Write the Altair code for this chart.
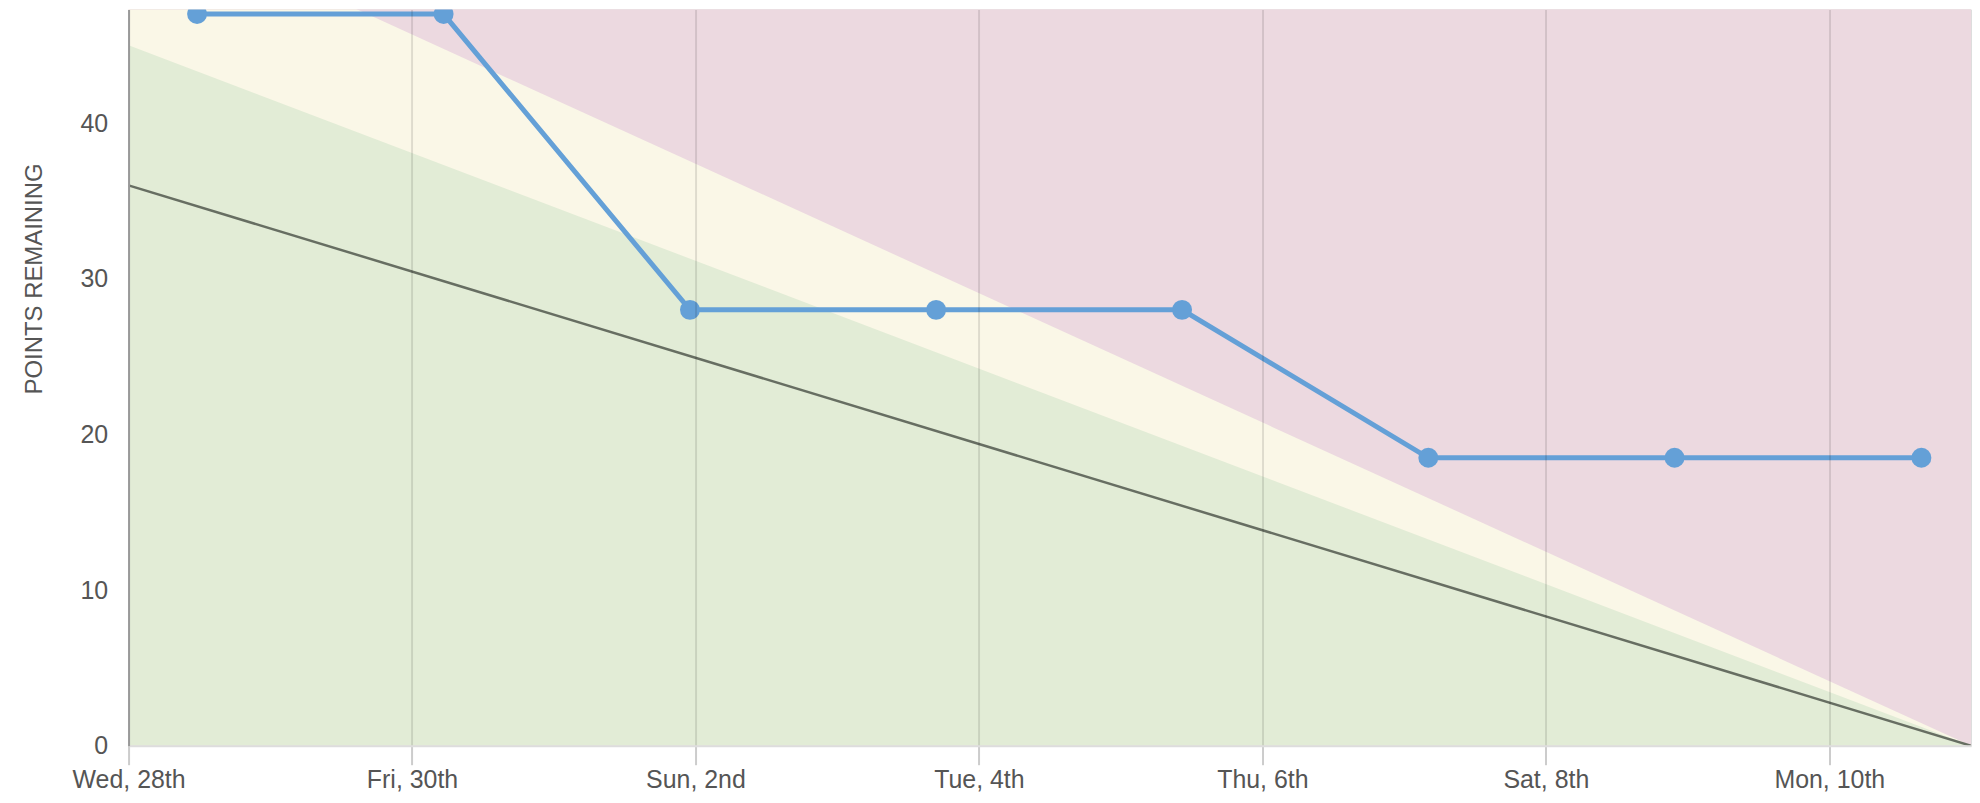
import altair as alt
import pandas as pd

# Sprint burndown: actual remaining points
burn_times = [
    "2017-06-28T11:36:00",
    "2017-06-30T05:21:00",
    "2017-07-01T23:04:00",
    "2017-07-03T16:45:00",
    "2017-07-05T10:24:00",
    "2017-07-07T04:06:00",
    "2017-07-08T21:48:00",
    "2017-07-10T15:36:00",
]
burn_points = [47, 47, 28, 28, 28, 18.5, 18.5, 18.5]

# Guide lines: start and end of the sprint
guide_times = ["2017-06-28T00:00:00", "2017-07-11T00:00:00"]
ideal_points = [36, 0]
green_points = [45, 0]
yellow_points = [54, 0]

tick_dates = [(6, 28), (6, 30), (7, 2), (7, 4), (7, 6), (7, 8), (7, 10)]

W, H = 1849, 739

burn = pd.DataFrame({"t": burn_times, "points": burn_points})
guides = pd.DataFrame(
    {"t": guide_times, "ideal": ideal_points, "green": green_points, "yellow": yellow_points}
)

label_expr = (
    "timeFormat(datum.value, '%a, ') + date(datum.value) + "
    "((date(datum.value) == 1 || date(datum.value) == 21 || date(datum.value) == 31) ? 'st' : "
    "(date(datum.value) == 2 || date(datum.value) == 22) ? 'nd' : "
    "(date(datum.value) == 3 || date(datum.value) == 23) ? 'rd' : 'th')"
)

x_scale = alt.Scale(
    domain=[
        alt.DateTime(year=2017, month=6, date=28),
        alt.DateTime(year=2017, month=7, date=11),
    ]
)
y_scale = alt.Scale(domain=[0, 47.3], nice=False, zero=True)

x_axis = alt.Axis(
    values=[alt.DateTime(year=2017, month=m, date=d) for m, d in tick_dates],
    labelExpr=label_expr,
    title=None,
    grid=True,
    gridColor="#000000",
    gridOpacity=0.11,
    gridWidth=2,
    domainColor="#dddddd",
    domainWidth=2,
    tickColor="#cccccc",
    tickWidth=2,
    tickSize=19,
    labelPadding=3,
    labelFlush=False,
    labelFontSize=25,
    labelColor="#555555",
    labelFont="Liberation Sans",
    zindex=1,
)
y_axis = alt.Axis(
    values=[0, 10, 20, 30, 40],
    title="POINTS REMAINING",
    grid=False,
    ticks=False,
    tickSize=0,
    domainColor="#999999",
    domainWidth=2,
    labelPadding=21,
    labelFontSize=25,
    labelColor="#555555",
    labelFont="Liberation Sans",
    titleFontSize=24,
    titleFontWeight="normal",
    titleColor="#555555",
    titleFont="Liberation Sans",
    titleX=-87,
    titleY=270,
    titleBaseline="alphabetic",
    titleAlign="center",
    zindex=1,
)

# pink "behind schedule" background of the plot area
background = alt.Chart(guides).mark_rect(color="#ecd9e0").encode(
    x=alt.value(0), x2=alt.value(W), y=alt.value(0), y2=alt.value(H)
)

base = alt.Chart(guides).encode(x=alt.X("t:T", scale=x_scale, axis=x_axis))

yellow = base.mark_area(color="#faf7e7", opacity=1, clip=True).encode(
    y=alt.Y("yellow:Q", scale=y_scale, axis=y_axis)
)
green = base.mark_area(color="#e2ecd6", opacity=1, clip=True).encode(
    y=alt.Y("green:Q", scale=y_scale)
)
ideal = base.mark_line(color="#676e62", strokeWidth=2.5, clip=True).encode(
    y=alt.Y("ideal:Q", scale=y_scale)
)

burn_base = alt.Chart(burn).encode(
    x=alt.X("t:T", scale=x_scale),
    y=alt.Y("points:Q", scale=y_scale),
)
burn_line = burn_base.mark_line(color="#64a0d7", strokeWidth=5, clip=True)
burn_dots = burn_base.mark_circle(color="#64a0d7", size=400, opacity=1, clip=True)

chart = (
    alt.layer(background, yellow, green, ideal, burn_line, burn_dots)
    .properties(
        width=W,
        height=H,
        autosize=alt.AutoSizeParams(type="none"),
        padding={"left": 121, "top": 0, "right": 1, "bottom": 48},
    )
    .configure_view(strokeWidth=0)
    .configure(background="white")
)

chart.save("out.html", embed_options={"renderer": "svg", "actions": False})
